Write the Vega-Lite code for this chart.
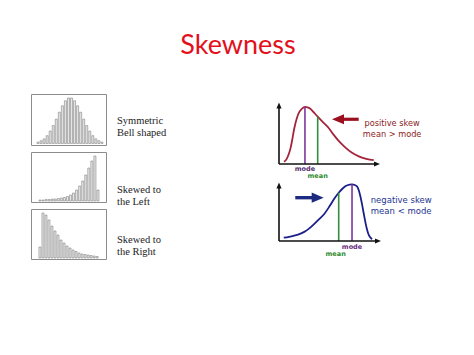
{
  "$schema": "https://vega.github.io/schema/vega-lite/v6.json",
  "padding": {"left": 30, "top": 0, "right": 0, "bottom": 0},
  "background": "white",
  "spacing": 0,
  "config": {"view": {"stroke": null}},
  "datasets": {
    "bell": [
      {"bin": 0, "binEnd": 1, "count": 3}, {"bin": 1, "binEnd": 2, "count": 6}, {"bin": 2, "binEnd": 3, "count": 10},
      {"bin": 3, "binEnd": 4, "count": 17}, {"bin": 4, "binEnd": 5, "count": 27}, {"bin": 5, "binEnd": 6, "count": 39},
      {"bin": 6, "binEnd": 7, "count": 53}, {"bin": 7, "binEnd": 8, "count": 68}, {"bin": 8, "binEnd": 9, "count": 82},
      {"bin": 9, "binEnd": 10, "count": 93}, {"bin": 10, "binEnd": 11, "count": 99}, {"bin": 11, "binEnd": 12, "count": 99},
      {"bin": 12, "binEnd": 13, "count": 93}, {"bin": 13, "binEnd": 14, "count": 82}, {"bin": 14, "binEnd": 15, "count": 68},
      {"bin": 15, "binEnd": 16, "count": 53}, {"bin": 16, "binEnd": 17, "count": 39}, {"bin": 17, "binEnd": 18, "count": 27},
      {"bin": 18, "binEnd": 19, "count": 17}, {"bin": 19, "binEnd": 20, "count": 10}, {"bin": 20, "binEnd": 21, "count": 6},
      {"bin": 21, "binEnd": 22, "count": 3}
    ],
    "leftSkew": [
      {"bin": 0, "binEnd": 1, "count": 2}, {"bin": 1, "binEnd": 2, "count": 2}, {"bin": 2, "binEnd": 3, "count": 3},
      {"bin": 3, "binEnd": 4, "count": 3}, {"bin": 4, "binEnd": 5, "count": 4}, {"bin": 5, "binEnd": 6, "count": 4},
      {"bin": 6, "binEnd": 7, "count": 5}, {"bin": 7, "binEnd": 8, "count": 6}, {"bin": 8, "binEnd": 9, "count": 7},
      {"bin": 9, "binEnd": 10, "count": 9}, {"bin": 10, "binEnd": 11, "count": 12}, {"bin": 11, "binEnd": 12, "count": 16},
      {"bin": 12, "binEnd": 13, "count": 22}, {"bin": 13, "binEnd": 14, "count": 30}, {"bin": 14, "binEnd": 15, "count": 40},
      {"bin": 15, "binEnd": 16, "count": 52}, {"bin": 16, "binEnd": 17, "count": 66}, {"bin": 17, "binEnd": 18, "count": 80},
      {"bin": 18, "binEnd": 19, "count": 90}, {"bin": 19, "binEnd": 20, "count": 22}
    ],
    "rightSkew": [
      {"bin": 0, "binEnd": 1, "count": 22}, {"bin": 1, "binEnd": 2, "count": 90}, {"bin": 2, "binEnd": 3, "count": 86},
      {"bin": 3, "binEnd": 4, "count": 76}, {"bin": 4, "binEnd": 5, "count": 64}, {"bin": 5, "binEnd": 6, "count": 54},
      {"bin": 6, "binEnd": 7, "count": 46}, {"bin": 7, "binEnd": 8, "count": 36}, {"bin": 8, "binEnd": 9, "count": 30},
      {"bin": 9, "binEnd": 10, "count": 24}, {"bin": 10, "binEnd": 11, "count": 20}, {"bin": 11, "binEnd": 12, "count": 16},
      {"bin": 12, "binEnd": 13, "count": 13}, {"bin": 13, "binEnd": 14, "count": 10}, {"bin": 14, "binEnd": 15, "count": 8},
      {"bin": 15, "binEnd": 16, "count": 7}, {"bin": 16, "binEnd": 17, "count": 6}, {"bin": 17, "binEnd": 18, "count": 5},
      {"bin": 18, "binEnd": 19, "count": 4}, {"bin": 19, "binEnd": 20, "count": 3}
    ],
    "posCurve": [
      {"x": 0.5, "y": 0.033}, {"x": 0.75, "y": 0.07}, {"x": 0.96, "y": 0.139}, {"x": 1.15, "y": 0.23},
      {"x": 1.29, "y": 0.33}, {"x": 1.5, "y": 0.5}, {"x": 1.78, "y": 0.66}, {"x": 2.0, "y": 0.74},
      {"x": 2.28, "y": 0.79}, {"x": 2.57, "y": 0.815}, {"x": 2.9, "y": 0.805}, {"x": 3.1, "y": 0.79},
      {"x": 3.43, "y": 0.74}, {"x": 3.83, "y": 0.676}, {"x": 4.3, "y": 0.605}, {"x": 4.92, "y": 0.515},
      {"x": 5.4, "y": 0.42}, {"x": 5.91, "y": 0.33}, {"x": 6.5, "y": 0.245}, {"x": 7.23, "y": 0.16},
      {"x": 7.9, "y": 0.11}, {"x": 8.55, "y": 0.078}, {"x": 9.0, "y": 0.064}, {"x": 9.38, "y": 0.055}
    ],
    "posStats": [
      {"stat": "mode", "x": 2.57, "top": 0.815},
      {"stat": "mean", "x": 3.83, "top": 0.676}
    ],
    "negCurve": [
      {"x": 0.47, "y": 0.047}, {"x": 1.0, "y": 0.06}, {"x": 1.5, "y": 0.077}, {"x": 1.95, "y": 0.095},
      {"x": 2.5, "y": 0.13}, {"x": 3.0, "y": 0.18}, {"x": 3.5, "y": 0.245}, {"x": 4.0, "y": 0.315},
      {"x": 4.5, "y": 0.39}, {"x": 5.0, "y": 0.495}, {"x": 5.5, "y": 0.61}, {"x": 5.91, "y": 0.69},
      {"x": 6.3, "y": 0.75}, {"x": 6.6, "y": 0.785}, {"x": 7.0, "y": 0.806}, {"x": 7.23, "y": 0.81},
      {"x": 7.5, "y": 0.8}, {"x": 7.75, "y": 0.775}, {"x": 8.05, "y": 0.643}, {"x": 8.2, "y": 0.54},
      {"x": 8.38, "y": 0.4}, {"x": 8.55, "y": 0.27}, {"x": 8.71, "y": 0.167}, {"x": 8.85, "y": 0.1},
      {"x": 8.99, "y": 0.06}, {"x": 9.21, "y": 0.025}
    ],
    "negStats": [
      {"stat": "mode", "x": 7.23, "top": 0.81},
      {"stat": "mean", "x": 5.91, "top": 0.69}
    ],
    "one": [{}]
  },
  "vconcat": [
    {
      "width": 414,
      "height": 93,
      "data": {"values": [{"title": "Skewness"}]},
      "mark": {"type": "text", "font": "Lato", "fontSize": 27, "color": "#e3101c", "baseline": "middle", "dy": -1},
      "encoding": {"text": {"field": "title"}}
    },
    {
      "hconcat": [
        {
          "hconcat": [
            {
              "vconcat": [
                {
                  "width": 75, "height": 51,
                  "view": {"stroke": "#8c8c8c", "strokeWidth": 1},
                  "data": {"name": "bell"},
                  "mark": {"type": "bar", "fill": "#e6e6e6", "stroke": "#858585", "strokeWidth": 0.6},
                  "encoding": {
                    "x": {"field": "bin", "type": "quantitative", "bin": "binned", "scale": {"domain": [-1.64, 22.99], "nice": false, "zero": false}, "axis": null},
                    "x2": {"field": "binEnd"},
                    "y": {"field": "count", "type": "quantitative", "scale": {"domain": [-3.3, 107.7], "nice": false, "zero": false}, "axis": null}
                  }
                },
                {
                  "width": 75, "height": 50,
                  "view": {"stroke": "#8c8c8c", "strokeWidth": 1},
                  "data": {"name": "leftSkew"},
                  "mark": {"type": "bar", "fill": "#e6e6e6", "stroke": "#858585", "strokeWidth": 0.6},
                  "encoding": {
                    "x": {"field": "bin", "type": "quantitative", "bin": "binned", "scale": {"domain": [-2.3, 22.3], "nice": false, "zero": false}, "axis": null},
                    "x2": {"field": "binEnd"},
                    "y": {"field": "count", "type": "quantitative", "scale": {"domain": [-2, 98], "nice": false, "zero": false}, "axis": null}
                  }
                },
                {
                  "width": 75, "height": 50,
                  "view": {"stroke": "#8c8c8c", "strokeWidth": 1},
                  "data": {"name": "rightSkew"},
                  "mark": {"type": "bar", "fill": "#e6e6e6", "stroke": "#858585", "strokeWidth": 0.6},
                  "encoding": {
                    "x": {"field": "bin", "type": "quantitative", "bin": "binned", "scale": {"domain": [-2.3, 22.6], "nice": false, "zero": false}, "axis": null},
                    "x2": {"field": "binEnd"},
                    "y": {"field": "count", "type": "quantitative", "scale": {"domain": [-2, 98], "nice": false, "zero": false}, "axis": null}
                  }
                }
              ],
              "spacing": 7,
              "bounds": "flush"
            },
            {
              "vconcat": [
                {
                  "width": 148, "height": 51,
                  "data": {"values": [{"label": "Symmetric\nBell shaped"}]},
                  "mark": {"type": "text", "font": "Liberation Serif", "fontSize": 10.5, "color": "#222222", "align": "left", "baseline": "middle", "lineBreak": "\n", "lineHeight": 12, "dy": 1},
                  "encoding": {"x": {"datum": 0, "scale": {"domain": [0, 1]}, "axis": null}, "text": {"field": "label"}}
                },
                {
                  "width": 148, "height": 50,
                  "data": {"values": [{"label": "Skewed to\nthe Left"}]},
                  "mark": {"type": "text", "font": "Liberation Serif", "fontSize": 10.5, "color": "#222222", "align": "left", "baseline": "middle", "lineBreak": "\n", "lineHeight": 12, "dy": 12.8},
                  "encoding": {"x": {"datum": 0, "scale": {"domain": [0, 1]}, "axis": null}, "text": {"field": "label"}}
                },
                {
                  "width": 148, "height": 50,
                  "data": {"values": [{"label": "Skewed to\nthe Right"}]},
                  "mark": {"type": "text", "font": "Liberation Serif", "fontSize": 10.5, "color": "#222222", "align": "left", "baseline": "middle", "lineBreak": "\n", "lineHeight": 12, "dy": 6.3},
                  "encoding": {"x": {"datum": 0, "scale": {"domain": [0, 1]}, "axis": null}, "text": {"field": "label"}}
                }
              ],
              "spacing": 7,
              "bounds": "flush"
            }
          ],
          "spacing": 10
        },
        {
          "vconcat": [
            {
              "width": 101, "height": 70,
              "layer": [
                {
                  "data": {"name": "posCurve"},
                  "mark": {"type": "line", "color": "#a3243b", "strokeWidth": 1.8, "interpolate": "monotone"},
                  "encoding": {
                    "x": {"field": "x", "type": "quantitative", "scale": {"domain": [0, 10], "nice": false, "zero": false}, "axis": null},
                    "y": {"field": "y", "type": "quantitative", "scale": {"domain": [0, 1], "nice": false, "zero": false}, "axis": null}
                  }
                },
                {
                  "data": {"name": "posStats"},
                  "mark": {"type": "rule", "strokeWidth": 1.6},
                  "encoding": {
                    "x": {"field": "x", "type": "quantitative"},
                    "y": {"field": "top", "type": "quantitative"},
                    "y2": {"datum": 0},
                    "color": {"field": "stat", "type": "nominal", "scale": {"domain": ["mode", "mean"], "range": ["#7d35a0", "#2f8f3a"]}, "legend": null}
                  }
                },
                {
                  "data": {"name": "posStats"},
                  "transform": [{"filter": "datum.stat === 'mode'"}],
                  "mark": {"type": "text", "font": "DejaVu Sans", "fontWeight": "bold", "fontSize": 6.5, "color": "#55306e", "baseline": "middle", "dy": 5},
                  "encoding": {"x": {"field": "x", "type": "quantitative"}, "y": {"datum": 0}, "text": {"field": "stat"}}
                },
                {
                  "data": {"name": "posStats"},
                  "transform": [{"filter": "datum.stat === 'mean'"}],
                  "mark": {"type": "text", "font": "DejaVu Sans", "fontWeight": "bold", "fontSize": 6.5, "color": "#2e8b2e", "baseline": "middle", "dy": 12},
                  "encoding": {"x": {"field": "x", "type": "quantitative"}, "y": {"datum": 0}, "text": {"field": "stat"}}
                },
                {
                  "data": {"name": "one"},
                  "mark": {"type": "rule", "color": "#111111", "strokeWidth": 1.6},
                  "encoding": {"x": {"datum": 0}, "x2": {"datum": 9.7}, "y": {"datum": 0}}
                },
                {
                  "data": {"name": "one"},
                  "mark": {"type": "rule", "color": "#111111", "strokeWidth": 1.6},
                  "encoding": {"x": {"datum": 0}, "y": {"datum": 0}, "y2": {"datum": 0.836}}
                },
                {
                  "data": {"name": "one"},
                  "mark": {"type": "point", "shape": "M 0 -1 L 0.85 1 L -0.85 1 Z", "size": 36, "filled": true, "color": "#111111", "opacity": 1, "strokeWidth": 0},
                  "encoding": {"x": {"datum": 0}, "y": {"datum": 0.836}}
                },
                {
                  "data": {"name": "one"},
                  "mark": {"type": "point", "shape": "M 1 0 L -1 -0.85 L -1 0.85 Z", "size": 36, "filled": true, "color": "#111111", "opacity": 1, "strokeWidth": 0},
                  "encoding": {"x": {"datum": 9.7}, "y": {"datum": 0}}
                },
                {
                  "data": {"name": "one"},
                  "mark": {"type": "rule", "color": "#9b0f1e", "strokeWidth": 3.2},
                  "encoding": {"x": {"datum": 5.84}, "x2": {"datum": 7.89}, "y": {"datum": 0.639}}
                },
                {
                  "data": {"name": "one"},
                  "mark": {"type": "point", "shape": "M -1 0 L 1 -0.85 L 1 0.85 Z", "size": 144, "filled": true, "color": "#9b0f1e", "opacity": 1, "strokeWidth": 0},
                  "encoding": {"x": {"datum": 5.84}, "y": {"datum": 0.639}}
                },
                {
                  "data": {"values": [{"note": "positive skew\nmean > mode"}]},
                  "mark": {"type": "text", "font": "DejaVu Sans", "fontSize": 8.2, "color": "#8a1c1c", "align": "center", "baseline": "middle", "lineBreak": "\n", "lineHeight": 10.6},
                  "encoding": {"x": {"datum": 11.2}, "y": {"datum": 0.571}, "text": {"field": "note"}}
                }
              ]
            },
            {
              "width": 101, "height": 70,
              "layer": [
                {
                  "data": {"name": "negCurve"},
                  "mark": {"type": "line", "color": "#1b1f8a", "strokeWidth": 1.8, "interpolate": "monotone"},
                  "encoding": {
                    "x": {"field": "x", "type": "quantitative", "scale": {"domain": [0, 10], "nice": false, "zero": false}, "axis": null},
                    "y": {"field": "y", "type": "quantitative", "scale": {"domain": [0, 1], "nice": false, "zero": false}, "axis": null}
                  }
                },
                {
                  "data": {"name": "negStats"},
                  "mark": {"type": "rule", "strokeWidth": 1.6},
                  "encoding": {
                    "x": {"field": "x", "type": "quantitative"},
                    "y": {"field": "top", "type": "quantitative"},
                    "y2": {"datum": 0},
                    "color": {"field": "stat", "type": "nominal", "scale": {"domain": ["mode", "mean"], "range": ["#7d35a0", "#2f8f3a"]}, "legend": null}
                  }
                },
                {
                  "data": {"name": "negStats"},
                  "transform": [{"filter": "datum.stat === 'mode'"}],
                  "mark": {"type": "text", "font": "DejaVu Sans", "fontWeight": "bold", "fontSize": 6.5, "color": "#6a2c82", "baseline": "middle", "dy": 6},
                  "encoding": {"x": {"field": "x", "type": "quantitative"}, "y": {"datum": 0}, "text": {"field": "stat"}}
                },
                {
                  "data": {"name": "negStats"},
                  "transform": [{"filter": "datum.stat === 'mean'"}],
                  "mark": {"type": "text", "font": "DejaVu Sans", "fontWeight": "bold", "fontSize": 6.5, "color": "#2e8b2e", "baseline": "middle", "dy": 12.5, "dx": -3},
                  "encoding": {"x": {"field": "x", "type": "quantitative"}, "y": {"datum": 0}, "text": {"field": "stat"}}
                },
                {
                  "data": {"name": "one"},
                  "mark": {"type": "rule", "color": "#111111", "strokeWidth": 1.6},
                  "encoding": {"x": {"datum": 0}, "x2": {"datum": 9.8}, "y": {"datum": 0}}
                },
                {
                  "data": {"name": "one"},
                  "mark": {"type": "rule", "color": "#111111", "strokeWidth": 1.6},
                  "encoding": {"x": {"datum": 0}, "y": {"datum": 0}, "y2": {"datum": 0.793}}
                },
                {
                  "data": {"name": "one"},
                  "mark": {"type": "point", "shape": "M 0 -1 L 0.85 1 L -0.85 1 Z", "size": 36, "filled": true, "color": "#111111", "opacity": 1, "strokeWidth": 0},
                  "encoding": {"x": {"datum": 0}, "y": {"datum": 0.793}}
                },
                {
                  "data": {"name": "one"},
                  "mark": {"type": "point", "shape": "M 1 0 L -1 -0.85 L -1 0.85 Z", "size": 36, "filled": true, "color": "#111111", "opacity": 1, "strokeWidth": 0},
                  "encoding": {"x": {"datum": 9.8}, "y": {"datum": 0}}
                },
                {
                  "data": {"name": "one"},
                  "mark": {"type": "rule", "color": "#1c2a80", "strokeWidth": 3.4},
                  "encoding": {"x": {"datum": 1.61}, "x2": {"datum": 3.83}, "y": {"datum": 0.619}}
                },
                {
                  "data": {"name": "one"},
                  "mark": {"type": "point", "shape": "M 1 0 L -1 -0.85 L -1 0.85 Z", "size": 144, "filled": true, "color": "#1c2a80", "opacity": 1, "strokeWidth": 0},
                  "encoding": {"x": {"datum": 3.83}, "y": {"datum": 0.619}}
                },
                {
                  "data": {"values": [{"note": "negative skew\nmean < mode"}]},
                  "mark": {"type": "text", "font": "DejaVu Sans", "fontSize": 8.5, "color": "#25358f", "align": "center", "baseline": "middle", "lineBreak": "\n", "lineHeight": 11},
                  "encoding": {"x": {"datum": 12.1}, "y": {"datum": 0.589}, "text": {"field": "note"}}
                }
              ]
            }
          ],
          "spacing": 7,
          "bounds": "flush"
        }
      ],
      "spacing": 11
    }
  ]
}
